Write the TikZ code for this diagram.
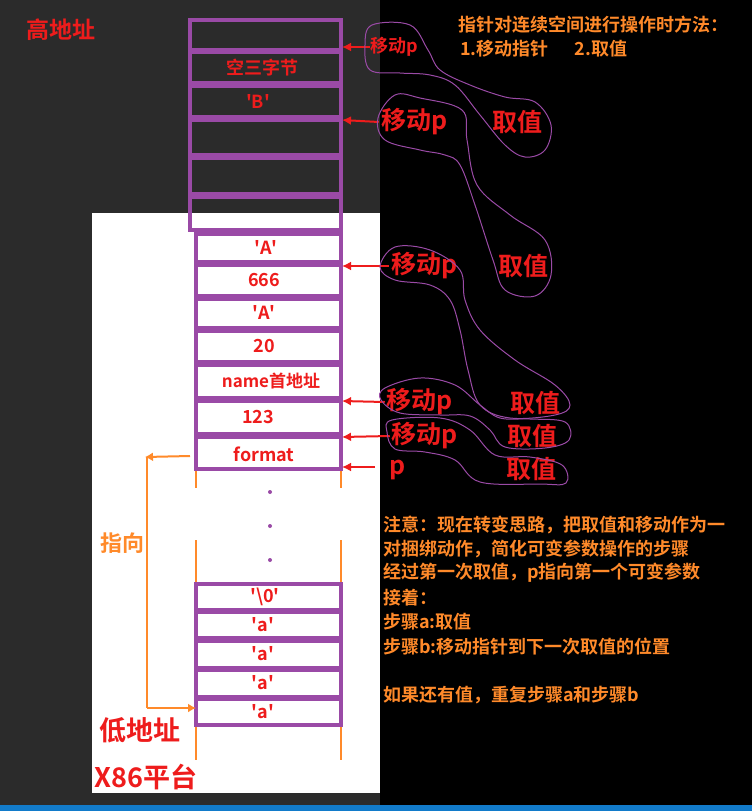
\documentclass[tikz,border=0pt]{standalone}
\usepackage{fontspec}
\setmainfont{Noto Sans CJK SC}[BoldFont={* Bold}]
\definecolor{rd}{HTML}{EE1C1C}
\definecolor{og}{HTML}{FF8A2A}
\definecolor{pu}{HTML}{9A4AA6}
\definecolor{dk}{HTML}{2B2B2B}
\newcommand{\q}{\textquotesingle}
\tikzset{cell/.style={draw=pu,line width=3.5pt},
 rarr/.style={draw=rd,line width=2pt,-{Latex[length=9pt,width=9pt]}},
 lbl/.style={text=rd,font=\bfseries\fontsize{25}{25}\selectfont,inner sep=0pt},
 ctext/.style={text=rd,font=\bfseries\fontsize{18}{18}\selectfont,inner sep=0pt},
 note/.style={text=og,font=\bfseries\fontsize{18}{18}\selectfont,inner sep=0pt,anchor=west},
 loop/.style={draw=pu,line width=1pt},
 orl/.style={draw=og,line width=2pt}}
\usetikzlibrary{arrows.meta}
\begin{document}
\begin{tikzpicture}[x=1pt,y=-1pt]
\useasboundingbox (0,0) rectangle (752,811);
\fill[dk] (0,0) rectangle (380,811);
\fill[black] (380,0) rectangle (752,811);
\fill[white] (92,213) rectangle (380,793);
\fill[cyan!60!blue] (0,805) rectangle (752,811);
% orange side lines
\foreach \x in {196,341}{
 \draw[orl] (\x,230) -- (\x,488);
 \draw[orl] (\x,540) -- (\x,760);}
% top cells
\foreach \a/\b in {20/50,52/83,86/117,120/155,158/194,197/230}{
 \draw[cell] (190,\a) rectangle (341,\b);}
\node[ctext] (c2) at (262,68) {空三字节};
\node[ctext] (c3) at (258,101) {\q B\q};
% lower cells
\foreach \a/\b in {234/262,265/296,299/328,331/362,365/398,401/434,437/469,584/610,612/638,641/668,670/697,699/725}{
 \draw[cell] (196,\a) rectangle (341,\b);}
\node[ctext] (l1) at (266,247) {\q A\q};
\node[ctext] (l2) at (264,280) {666};
\node[ctext] (l3) at (264,312) {\q A\q};
\node[ctext] (l4) at (264,346) {20};
\node[ctext,font=\bfseries\fontsize{17}{17}\selectfont] (l5) at (271,381) {name首地址};
\node[ctext] (l6) at (258,417) {123};
\node[ctext] (fmt) at (264,454) {format};
\foreach \y in {492,526,560} \fill[pu] (270,\y) circle (2pt);
\node[ctext] at (265,597) {\q\textbackslash0\q};
\foreach \y in {625,654,683,712} \node[ctext] at (263,\y) {\q a\q};
% orange pointer
\coordinate (o1) at (190,456); \coordinate (o2) at (145,457);
\coordinate (o3) at (147,708); \coordinate (o4) at (196,708);
\draw[orl,-{Latex[length=8pt,width=9pt]}] (o1) -- (o2);
\draw[orl] (147,457) -- (o3);
\draw[orl,-{Latex[length=8pt,width=9pt]}] (o3) -- (o4);
\node[text=og,font=\bfseries\fontsize{22}{22}\selectfont] (zx) at (122,543) {指向};
\node[lbl,font=\bfseries\fontsize{27}{27}\selectfont] (low) at (140,730) {低地址};
\node[lbl,font=\bfseries\fontsize{27}{27}\selectfont] (x86) at (146,777) {X86平台};
\node[lbl,font=\bfseries\fontsize{23}{23}\selectfont] (high) at (61,30) {高地址};
% red arrows and labels
\node[text=rd,font=\bfseries\fontsize{18}{18}\selectfont,inner sep=0pt] (m1) at (394,47) {移动p};
\node[lbl] (m2) at (415,122) {移动p}; \node[lbl] (q2) at (517,122) {取值};
\node[lbl] (m3) at (425,266) {移动p}; \node[lbl] (q3) at (523,266) {取值};
\node[lbl] (m4) at (420,402) {移动p}; \node[lbl] (q4) at (535,403) {取值};
\node[lbl] (m5) at (425,436) {移动p}; \node[lbl] (q5) at (532,436) {取值};
\node[lbl] (m6) at (398,470) {p}; \node[lbl] (q6) at (531,469) {取值};
\draw[rarr] (m1.west) -- (342,47);
\draw[rarr] (m2.west)++(-3,0) -- (342,120);
\draw[rarr] (m3.west)++(-3,0) -- (342,266);
\draw[rarr] (m4.west)++(-2,0) -- (342,401);
\draw[rarr] (m5.west)++(-2,0) -- (342,437);
\draw[rarr] (375,467) -- (342,467);
% loops
\draw[loop] plot[smooth cycle,tension=0.6] coordinates {(372,25)(410,25)(428,50)(440,70)(470,85)(505,97)(535,102)(551,125)(545,150)(525,157)(505,145)(480,115)(455,85)(430,75)(400,73)(370,70)(365,45)};
\draw[loop] plot[smooth cycle,tension=0.6] coordinates {(395,95)(420,98)(462,110)(467,140)(477,185)(510,215)(545,240)(551,275)(535,296)(505,290)(493,260)(475,205)(460,165)(445,155)(420,150)(385,140)(378,118)};
\draw[loop] plot[smooth cycle,tension=0.6] coordinates {(395,247)(430,250)(460,270)(465,300)(480,330)(515,360)(555,385)(570,405)(555,415)(510,418)(480,405)(468,370)(460,330)(450,300)(430,285)(395,280)(380,267)};
\draw[loop] plot[smooth cycle,tension=0.6] coordinates {(385,388)(420,378)(455,385)(480,405)(500,418)(530,419)(565,422)(569,440)(545,448)(505,447)(490,430)(470,416)(440,415)(400,413)(381,400)};
\draw[loop] plot[smooth cycle,tension=0.6] coordinates {(392,420)(440,418)(470,430)(495,455)(530,457)(562,465)(566,483)(540,484)(480,482)(455,460)(425,452)(395,449)(387,432)};
% notes
\node[note] (t1) at (458,25) {指针对连续空间进行操作时方法：};
\node[note] (t2) at (460,49) {1.移动指针\quad\ \ 2.取值};
\node[note] (n1) at (383,525) {注意：现在转变思路，把取值和移动作为一};
\node[note] (n2) at (383,549) {对捆绑动作，简化可变参数操作的步骤};
\node[note] (n3) at (383,573) {经过第一次取值，p指向第一个可变参数};
\node[note] (n4) at (383,598) {接着：};
\node[note] (n5) at (383,622) {步骤a:取值};
\node[note] (n6) at (383,647) {步骤b:移动指针到下一次取值的位置};
\node[note] (n7) at (383,695) {如果还有值，重复步骤a和步骤b};
\end{tikzpicture}
\end{document}
